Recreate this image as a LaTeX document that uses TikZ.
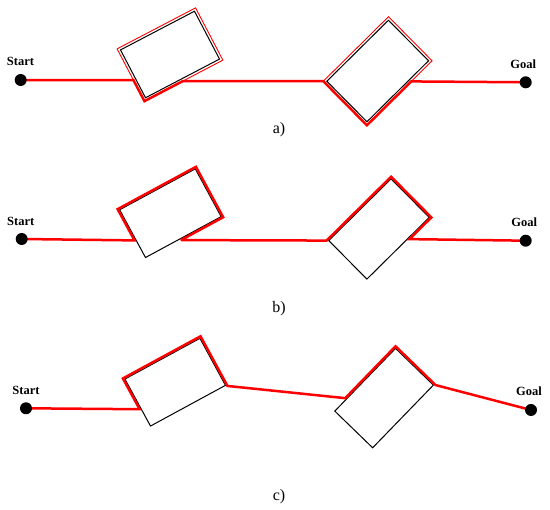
\documentclass[tikz,border=0pt]{standalone}
\usepackage{fontspec}
\setmainfont{Liberation Serif}
\usetikzlibrary{calc}
\tikzset{
  box/.style={draw=black, line width=1pt},
  route/.style={draw=red, line width=2.5pt, line join=miter, miter limit=4},
  halo/.style={draw=red, line width=0.9pt},
  dot/.style={circle, fill=black, inner sep=0pt, minimum size=12pt},
  lbl/.style={font=\bfseries\fontsize{12.5}{14}\selectfont, inner sep=0pt, anchor=base},
  captxt/.style={font=\fontsize{16}{18}\selectfont, inner sep=0pt},
}
% name, cx, cy, angle, w, h, offset
\newcommand\obst[7]{%
  \begin{scope}[shift={(#2,#3)}, rotate=#4]
    \coordinate (#1tl) at ({-(#5)/2},{-(#6)/2});
    \coordinate (#1tr) at ({(#5)/2},{-(#6)/2});
    \coordinate (#1br) at ({(#5)/2},{(#6)/2});
    \coordinate (#1bl) at ({-(#5)/2},{(#6)/2});
    \coordinate (#1otl) at ({-(#5)/2-#7},{-(#6)/2-#7});
    \coordinate (#1otr) at ({(#5)/2+#7},{-(#6)/2-#7});
    \coordinate (#1obr) at ({(#5)/2+#7},{(#6)/2+#7});
    \coordinate (#1obl) at ({-(#5)/2-#7},{(#6)/2+#7});
  \end{scope}
  \draw[box] (#1tl) -- (#1tr) -- (#1br) -- (#1bl) -- cycle;
}
\begin{document}
\begin{tikzpicture}[x=1pt, y=-1pt]
\useasboundingbox (0,0) rectangle (550,510);

% ---------- a) ----------
\obst{aA}{170}{54.5}{27.6}{83.5}{54}{2.5}
\obst{aB}{377.7}{71}{44.7}{86.7}{57}{2.5}
\draw[halo] (aAotl) -- (aAotr) -- (aAobr) -- (aAobl) -- cycle;
\draw[halo] (aBotl) -- (aBotr) -- (aBobr) -- (aBobl) -- cycle;
\coordinate (sa) at (20.7,80);
\coordinate (ga) at (525.7,82.3);
\draw[route] (sa) -- ($(aAotl)!0.6!(aAobl)$) -- (aAobl) -- ($(aAobl)!0.49!(aAobr)$)
  -- (aBotl) -- (aBobl) -- ($(aBobl)!0.68!(aBobr)$) -- (ga);
\node[dot] (sad) at (sa) {};
\node[dot] (gad) at (ga) {};
\node[lbl] (sla) at (20.5,65.7) {Start};
\node[lbl] (gla) at (523.3,69) {Goal};
\node[captxt] (capa) at (279,130) {a)};

% ---------- b) ----------
\obst{bA}{170.4}{213.2}{28.4}{86}{54.3}{1.5}
\obst{bB}{379}{229}{44.7}{87.7}{54.2}{1.5}
\coordinate (sb) at (21.7,239);
\coordinate (gb) at (525.7,240.7);
\draw[route] (sb) -- ($(bAotl)!0.62!(bAobl)$) -- (bAotl) -- (bAotr) -- (bAobr)
  -- ($(bAobl)!0.46!(bAobr)$) -- (bBotl) -- (bBotr) -- (bBobr)
  -- ($(bBobl)!0.66!(bBobr)$) -- (gb);
\node[dot] (sbd) at (sb) {};
\node[dot] (gbd) at (gb) {};
\node[lbl] (slb) at (20.7,225.7) {Start};
\node[lbl] (glb) at (524.3,226.7) {Goal};
\node[captxt] (capb) at (279,309) {b)};

% ---------- c) ----------
\obst{cA}{175.2}{382.2}{28.5}{85.3}{53.5}{1.5}
\obst{cB}{384.1}{398.1}{45.9}{87.3}{52.7}{1.5}
\coordinate (sc) at (26,408.3);
\coordinate (gc) at (531,410);
\draw[route] (sc) -- ($(cAotl)!0.62!(cAobl)$) -- (cAotl) -- (cAotr) -- (cAobr)
  -- ($(cBotl)!0.2!(cBotr)$) -- (cBotr) -- (cBobr) -- (gc);
\node[dot] (scd) at (sc) {};
\node[dot] (gcd) at (gc) {};
\node[lbl] (slc) at (26,395) {Start};
\node[lbl] (glc) at (529,396) {Goal};
\node[captxt] (capc) at (279,497) {c)};
\end{tikzpicture}
\end{document}
